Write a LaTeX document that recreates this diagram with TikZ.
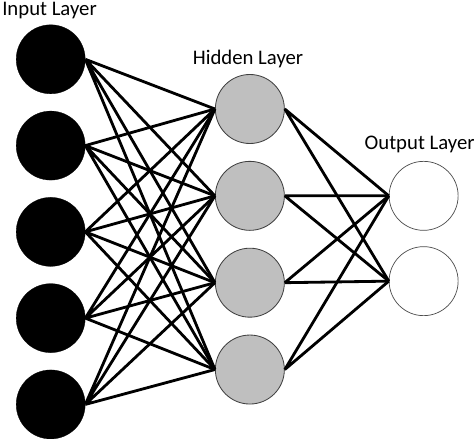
\documentclass[tikz,border=0pt]{standalone}
\usepackage{fontspec}
\setmainfont{Carlito}
\usetikzlibrary{positioning}

\begin{document}
\begin{tikzpicture}

	\tikzstyle{neuron}=[circle,draw,minimum size=3.45cm,inner sep=0pt,
		node distance=0.85cm]
	\tikzstyle{input}=[neuron,fill=black]
	\tikzstyle{hidden}=[neuron,fill=gray!50,draw=black!75,line width=1.2pt]
	\tikzstyle{output}=[neuron,fill=white,draw=black!70,line width=1pt]
	\tikzstyle{layer}=[inner sep=0pt,font=\fontsize{29.5}{34}\selectfont]
	\tikzstyle{link}=[line width=4pt]

	\useasboundingbox (0,0) rectangle (23.7,-21.95);

	\node[input](in1) at (2.535,-2.965){};
	\node[input,below=of in1](in2){};
	\node[input,below=of in2](in3){};
	\node[input,below=of in3](in4){};
	\node[input,below=of in4](in5){};

	\node[hidden,right=6.48cm of in1,yshift=-2.485cm](hid1){};
	\node[hidden,below=of hid1](hid2){};
	\node[hidden,below=of hid2](hid3){};
	\node[hidden,below=of hid3](hid4){};

	\node[output,right=5.2cm of hid2](out1){};
	\node[output,below=0.78cm of out1](out2){};

	\node[layer,above=0.48cm of in1,anchor=base,xshift=-0.06cm](inlabel){Input Layer};
	\node[layer,above=0.5cm of hid1,anchor=base,xshift=-0.09cm](hidlabel){Hidden Layer};
	\node[layer,above=0.56cm of out1,anchor=base,xshift=-0.2cm](outlabel){Output Layer};

	\draw[link] (in1.east) -- (hid1.west) (in1.east) -- (hid2.west) (in1.east) -- (hid3.west) (in1.east) -- (hid4.west);
	\draw[link] (in2.east) -- (hid1.west) (in2.east) -- (hid2.west) (in2.east) -- (hid3.west) (in2.east) -- (hid4.west);
	\draw[link] (in3.east) -- (hid1.west) (in3.east) -- (hid2.west) (in3.east) -- (hid3.west) (in3.east) -- (hid4.west);
	\draw[link] (in4.east) -- (hid1.west) (in4.east) -- (hid2.west) (in4.east) -- (hid3.west) (in4.east) -- (hid4.west);
	\draw[link] (in5.east) -- (hid1.west) (in5.east) -- (hid2.west) (in5.east) -- (hid3.west) (in5.east) -- (hid4.west);
	\draw[link] (hid1.east) -- (out1.west) (hid1.east) -- (out2.west);
	\draw[link] (hid2.east) -- (out1.west) (hid2.east) -- (out2.west);
	\draw[link] (hid3.east) -- (out1.west) (hid3.east) -- (out2.west);
	\draw[link] (hid4.east) -- (out1.west) (hid4.east) -- (out2.west);

\end{tikzpicture}
\end{document}
